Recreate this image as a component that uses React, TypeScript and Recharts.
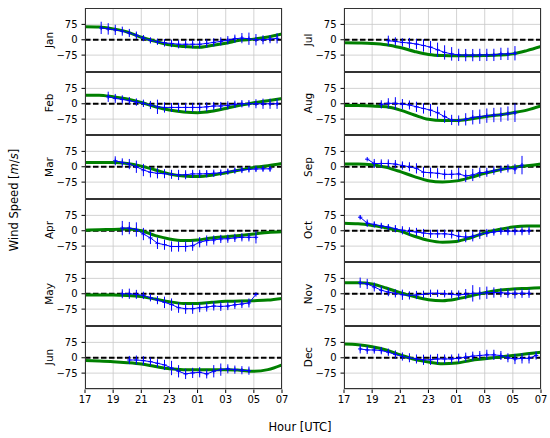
import React from 'react';
import { LineChart, Line, XAxis, YAxis, CartesianGrid, ReferenceLine, ErrorBar } from 'recharts';

// model output on the hour, 17 UTC to 07 UTC (17..31)
const modelHours = [17, 18, 19, 20, 21, 22, 23, 24, 25, 26, 27, 28, 29, 30, 31];

// observation times (half-hourly)
const obsHours = [
  18.15, 18.65, 19.15, 19.65, 20.15, 20.65, 21.15, 21.65, 22.15, 22.65, 23.15, 23.65, 24.15,
  24.65, 25.15, 25.65, 26.15, 26.65, 27.15, 27.65, 28.15, 28.65, 29.15, 29.65, 30.15, 30.65,
];

const xTicks = [17, 19, 21, 23, 25, 27, 29, 31];
const yTicks = [75, 0, -75];

const months = ['Jan', 'Feb', 'Mar', 'Apr', 'May', 'Jun', 'Jul', 'Aug', 'Sep', 'Oct', 'Nov', 'Dec'];

const _ = null;

const modelJan = [63, 62, 53, 38, 12, -8, -25, -33, -37, -28, -17, -3, 3, 13, 28];
const modelFeb = [42, 42, 34, 23, 6, -15, -31, -40, -44, -37, -23, -8, 5, 15, 26];
const modelMar = [21, 21, 21, 16, 3, -16, -35, -45, -48, -42, -29, -16, -3, 5, 16];
const modelApr = [3, 5, 6, 8, 0, -24, -40, -48, -45, -35, -29, -23, -16, -8, -5];
const modelMay = [-6, -6, -6, -8, -14, -26, -39, -47, -47, -42, -37, -36, -34, -31, -23];
const modelJun = [-14, -16, -19, -24, -31, -43, -54, -58, -58, -58, -58, -61, -66, -58, -35];
const modelJul = [-15, -16, -18, -24, -38, -57, -72, -77, -78, -78, -77, -75, -69, -53, -33];
const modelAug = [-8, -9, -11, -15, -31, -55, -76, -82, -82, -74, -63, -55, -44, -31, -11];
const modelSep = [13, 13, 10, -3, -24, -48, -68, -74, -69, -52, -32, -16, -3, 5, 13];
const modelOct = [37, 34, 26, 15, -2, -27, -47, -56, -52, -34, -11, 6, 18, 23, 23];
const modelNov = [54, 54, 48, 28, 5, -14, -29, -34, -26, -11, 5, 17, 23, 26, 29];
const modelDec = [67, 64, 54, 38, 14, -8, -21, -29, -26, -13, -5, 3, 11, 19, 27];

const obsJan = [58, 53, 48, 42, 33, 22, 8, -3, -10, -15, -18, -22, -22, -22, -22, -18, -13, -8, -2, 5, 8, 5, 0, 0, 3, 7];
const errJan = [30, 28, 25, 22, 20, 18, 15, 15, 15, 18, 18, 20, 20, 20, 20, 20, 20, 20, 20, 20, 25, 30, 28, 22, 20, 25];
const obsFeb = [_, 34, 26, 21, 15, 8, 2, -6, -15, -18, -18, -18, -18, -18, -18, -15, -11, -11, -8, -3, 0, 0, 0, 0, 0, 0];
const errFeb = [_, 25, 22, 20, 18, 18, 18, 20, 35, 25, 22, 22, 22, 22, 22, 22, 20, 20, 20, 18, 18, 18, 22, 25, 25, 25];
const obsMar = [_, _, 29, 21, 13, 0, -16, -27, -32, -34, -37, -40, -39, -35, -35, -34, -32, -29, -24, -19, -16, -13, -11, -10, -10, _];
const errMar = [_, _, 22, 20, 25, 30, 30, 25, 25, 22, 22, 25, 22, 20, 20, 18, 18, 16, 15, 15, 15, 15, 15, 15, 15, _];
const obsApr = [_, _, _, 13, 13, 6, -16, -35, -61, -68, -77, -77, -77, -73, -56, -48, -45, -40, -39, -35, -32, -32, -32, _, _, _];
const errApr = [_, _, _, 35, 30, 35, 30, 30, 28, 25, 25, 25, 25, 25, 25, 25, 22, 20, 20, 20, 20, 20, 30, _, _, _];
const obsMay = [_, _, _, 0, 0, -3, -8, -19, -31, -42, -53, -68, -73, -73, -68, -65, -60, -62, -60, -54, -50, -45, -3, _, _, _];
const errMay = [_, _, _, 22, 25, 22, 18, 18, 20, 28, 30, 25, 25, 25, 22, 22, 22, 22, 20, 20, 20, 22, 3, _, _, _];
const obsJun = [_, _, _, _, -11, -11, -14, -19, -27, -35, -50, -66, -79, -74, -71, -79, -66, -58, -54, -58, -61, -63, _, _, _, _];
const errJun = [_, _, _, _, 20, 22, 22, 20, 20, 25, 35, 30, 25, 25, 25, 22, 30, 30, 22, 20, 20, 20, _, _, _, _];
const obsJul = [_, _, _, _, -5, -8, -13, -16, -21, -28, -36, -49, -62, -69, -74, -75, -75, -74, -74, -74, -69, -69, -66, _, _, _];
const errJul = [_, _, _, _, 25, 20, 20, 25, 25, 30, 30, 35, 35, 33, 30, 30, 30, 30, 30, 30, 30, 30, 35, _, _, _];
const obsAug = [_, _, _, -3, 2, 2, -2, -6, -15, -23, -31, -44, -63, -79, -82, -76, -66, -63, -58, -55, -53, -48, -44, _, _, _];
const errAug = [_, _, _, 20, 25, 30, 25, 22, 25, 25, 30, 30, 30, 25, 25, 30, 35, 35, 35, 35, 35, 35, 45, _, _, _];
const obsSep = [_, 37, 16, 16, 16, 13, 6, 0, -8, -27, -29, -32, -37, -37, -35, -45, -40, -29, -27, -19, -13, -8, -11, 8, _, _];
const errSep = [_, 2, 22, 20, 20, 20, 20, 22, 25, 25, 25, 25, 25, 22, 30, 30, 30, 25, 22, 20, 18, 20, 25, 45, _, _];
const obsOct = [66, 37, 31, 24, 18, 10, 2, -3, -6, -11, -15, -15, -15, -18, -27, -31, -27, -18, -11, -6, -2, -2, -2, -2, 0, _];
const errOct = [10, 18, 15, 15, 15, 18, 20, 20, 20, 20, 20, 20, 20, 20, 25, 25, 25, 22, 20, 18, 18, 20, 20, 20, 20, _];
const obsNov = [54, 48, 33, 17, 8, 2, -5, -8, -6, -3, 2, 2, 0, -3, -6, -2, 2, 2, 5, 6, 5, 2, 2, 2, 2, _];
const errNov = [25, 25, 22, 20, 20, 20, 25, 20, 20, 18, 18, 18, 18, 20, 22, 25, 40, 30, 30, 25, 22, 22, 25, 22, 22, _];
const obsDec = [43, 38, 38, 35, 27, 16, 6, 0, -6, -10, -10, -6, -6, -6, -2, 3, 8, 11, 14, 14, 11, 0, -6, -3, -3, 11];
const errDec = [22, 20, 18, 18, 18, 20, 20, 22, 22, 25, 25, 25, 22, 22, 22, 22, 22, 22, 25, 25, 22, 22, 25, 25, 25, 20];

const models = [modelJan, modelFeb, modelMar, modelApr, modelMay, modelJun, modelJul, modelAug, modelSep, modelOct, modelNov, modelDec];
const obs = [obsJan, obsFeb, obsMar, obsApr, obsMay, obsJun, obsJul, obsAug, obsSep, obsOct, obsNov, obsDec];
const errs = [errJan, errFeb, errMar, errApr, errMay, errJun, errJul, errAug, errSep, errOct, errNov, errDec];

const FONT = '"DejaVu Sans", sans-serif';
const PLOT_W = 197;
const PANEL_H = 63.5;
const TOP = 8;
const COL_X = [85.3, 344];
const YAXIS_W = 40;
const XAXIS_H = 26;
const RIGHT_PAD = 10;

const hourLabel = (v: number) => String(v % 24).padStart(2, '0');

const Plus = (props: any) => {
  const { cx, cy, index } = props;
  if (cx == null || cy == null) return <g key={index} />;
  return <path key={index} d={`M${cx - 2.2},${cy}h4.4M${cx},${cy - 2.2}v4.4`} stroke="#0000ff" strokeWidth={1} />;
};

const Panel = ({ m }: { m: number }) => {
  const col = m < 6 ? 0 : 1;
  const row = m % 6;
  const bottom = row === 5;
  const modelData = modelHours.map((h, i) => ({ h, v: models[m][i] }));
  const obsData = obsHours
    .map((h, i) => ({ h, v: obs[m][i], e: errs[m][i] }))
    .filter((d) => d.v !== null);
  const top = TOP + row * PANEL_H;
  const left = COL_X[col];

  return (
    <>
      <div style={{ position: 'absolute', left: left - YAXIS_W, top }}>
        <LineChart
          width={PLOT_W + YAXIS_W + RIGHT_PAD}
          height={PANEL_H + (bottom ? XAXIS_H : 0)}
          margin={{ top: 0, right: RIGHT_PAD, bottom: 0, left: 0 }}
        >
          <CartesianGrid stroke="#c8c8c8" strokeWidth={0.8} />
          <XAxis
            type="number"
            dataKey="h"
            domain={[17, 31]}
            ticks={xTicks}
            tickFormatter={hourLabel}
            allowDataOverflow
            hide={!bottom}
            height={XAXIS_H}
            axisLine={false}
            tickSize={3.5}
            tickMargin={3}
            tick={{ fontSize: 10, fill: '#000', fontFamily: FONT }}
            tickLine={{ stroke: '#000' }}
            interval={0}
          />
          <YAxis
            type="number"
            domain={[-155, 155]}
            ticks={yTicks}
            allowDataOverflow
            width={YAXIS_W}
            axisLine={false}
            tickSize={3.5}
            tickMargin={4}
            tick={{ fontSize: 10, fill: '#000', fontFamily: FONT }}
            tickLine={{ stroke: '#000' }}
            interval={0}
            tickFormatter={(v: number) => (v < 0 ? `\u2212${-v}` : String(v))}
          />
          <ReferenceLine y={0} stroke="#000" strokeWidth={2} strokeDasharray="5.5 2.5" />
          <Line
            data={modelData}
            dataKey="v"
            type="monotone"
            stroke="#008000"
            strokeWidth={3}
            dot={false}
            isAnimationActive={false}
          />
          <Line
            data={obsData}
            dataKey="v"
            type="linear"
            stroke="#0000ff"
            strokeWidth={1}
            dot={Plus}
            isAnimationActive={false}
          >
            <ErrorBar dataKey="e" direction="y" width={0} stroke="#0000ff" strokeWidth={1} isAnimationActive={false} />
          </Line>
        </LineChart>
      </div>
      <div
        style={{
          position: 'absolute',
          left,
          top,
          width: PLOT_W,
          height: PANEL_H,
          border: '1px solid #333',
          boxSizing: 'border-box',
          pointerEvents: 'none',
        }}
      />
      <div
        style={{
          position: 'absolute',
          left: left - 36 - 20,
          top: top + PANEL_H / 2 - 7,
          width: 40,
          height: 14,
          lineHeight: '14px',
          textAlign: 'center',
          fontSize: 10.5,
          fontFamily: FONT,
          transform: 'rotate(-90deg)',
        }}
      >
        {months[m]}
      </div>
    </>
  );
};

export default function App() {
  return (
    <div
      style={{
        position: 'absolute',
        left: 0,
        top: 0,
        width: 550,
        height: 438,
        background: '#fff',
        fontFamily: FONT,
        overflow: 'hidden',
      }}
    >
      {months.map((name, m) => (
        <Panel key={name} m={m} />
      ))}
      <div
        style={{
          position: 'absolute',
          left: 200,
          top: 419,
          width: 200,
          textAlign: 'center',
          fontSize: 11.5,
          lineHeight: '16px',
        }}
      >
        Hour [UTC]
      </div>
      <div
        style={{
          position: 'absolute',
          left: 14 - 80,
          top: 200 - 8,
          width: 160,
          height: 16,
          lineHeight: '16px',
          textAlign: 'center',
          fontSize: 11.5,
          transform: 'rotate(-90deg)',
        }}
      >
        Wind Speed [<i>m</i>/<i>s</i>]
      </div>
    </div>
  );
}
